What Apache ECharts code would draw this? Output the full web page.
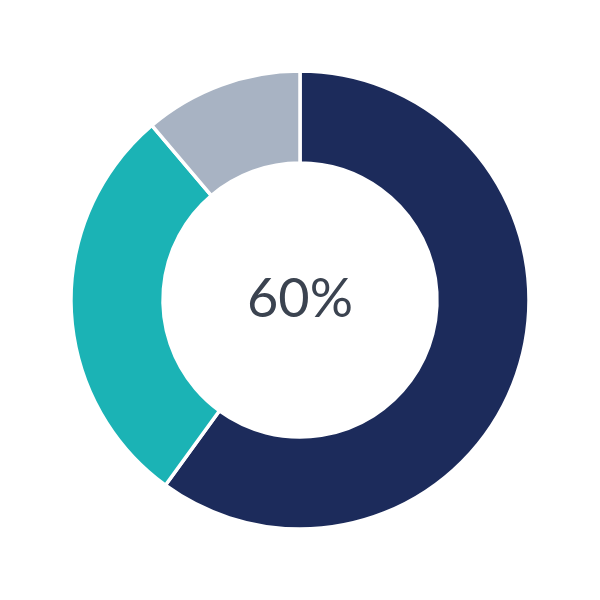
<!DOCTYPE html>
<html>
<head>
<meta charset="utf-8">
<script src="https://cdn.jsdelivr.net/npm/echarts@6/dist/echarts.min.js"></script>
<style>
    html, body { margin: 0; padding: 0; background: #fff; }
    #donut { width: 600px; height: 600px; }
</style>
</head>
<body>
<div id="donut"></div>
<script>
// Data
var sliceNames = ['Primary', 'Secondary', 'Other'];
var sliceValues = [60, 28.8, 11.2];
var sliceColors = ['#1c2b5b', '#1bb3b5', '#a8b3c3'];
var centerLabel = '60%';

var donut_element = document.getElementById('donut');

if (donut_element) {

    var donut = echarts.init(donut_element);

    donut.setOption({
        color: sliceColors,
        animation: false,
        title: {
            text: centerLabel,
            left: 'center',
            top: 'middle',
            textStyle: {
                fontFamily: 'Lato, sans-serif',
                fontSize: 54,
                fontWeight: 'normal',
                color: '#3b4350'
            }
        },
        series: [{
            name: 'Share',
            type: 'pie',
            radius: [137, 229],
            center: ['50%', '50%'],
            startAngle: 90,
            clockwise: true,
            label: { show: false },
            labelLine: { show: false },
            itemStyle: {
                borderWidth: 3.5,
                borderColor: '#fff'
            },
            data: sliceNames.map(function (n, i) {
                return { name: n, value: sliceValues[i] };
            })
        }]
    });
}
</script>
</body>
</html>
